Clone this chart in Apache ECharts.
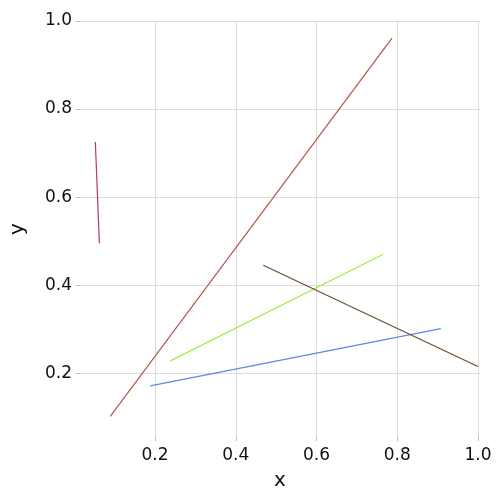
<!DOCTYPE html>
<html><head><meta charset="utf-8">
<script src="https://cdn.jsdelivr.net/npm/echarts@6/dist/echarts.min.js"></script>
<style>html,body{margin:0;padding:0;background:#fff}#c{width:500px;height:500px}</style>
</head><body><div id="c"></div>
<script>
const seriesColors = ['#b8376a', '#b5554a', '#9cf03a', '#5a8ae0', '#6e4e30'];
const segA = [[0.052, 0.725], [0.062, 0.495]];
const segB = [[0.089, 0.102], [0.787, 0.961]];
const segC = [[0.238, 0.228], [0.765, 0.470]];
const segD = [[0.188, 0.171], [0.908, 0.301]];
const segE = [[0.468, 0.445], [1.000, 0.215]];
const xTicks = [0.2, 0.4, 0.6, 0.8, 1.0];
const yTicks = [0.2, 0.4, 0.6, 0.8, 1.0];
const segs = [segA, segB, segC, segD, segE];

const chart = echarts.init(document.getElementById('c'));
const lbl = {color: '#111', fontSize: 17, fontFamily: 'DejaVu Sans'};
chart.setOption({
  animation: false,
  grid: {left: 75, right: 20, top: 21, bottom: 63, containLabel: false},
  xAxis: {
    type: 'value', min: 0.014, max: 1.005, name: 'x', nameLocation: 'middle', nameGap: 34,
    nameTextStyle: {fontSize: 20, color: '#111', fontFamily: 'DejaVu Sans'},
    axisLine: {show: false},
    axisTick: {show: true, length: 4, lineStyle: {color: '#bbb'}, customValues: xTicks},
    axisLabel: Object.assign({customValues: xTicks, formatter: v => v.toFixed(1), margin: 10}, lbl),
    splitLine: {show: true, lineStyle: {color: '#ddd'}}
  },
  yAxis: {
    type: 'value', min: 0.055, max: 1.0, name: 'y', nameLocation: 'middle', nameGap: 52,
    nameTextStyle: {fontSize: 20, color: '#111', fontFamily: 'DejaVu Sans'},
    axisLine: {show: false},
    axisTick: {show: true, length: 4, lineStyle: {color: '#bbb'}, customValues: yTicks},
    axisLabel: Object.assign({customValues: yTicks, formatter: v => v.toFixed(1), margin: 8}, lbl),
    splitLine: {show: true, lineStyle: {color: '#ddd'}}
  },
  series: segs.map((s, i) => ({
    type: 'line', data: s, symbol: 'none', lineStyle: {width: 1.2, color: seriesColors[i]}
  }))
});
</script></body></html>
